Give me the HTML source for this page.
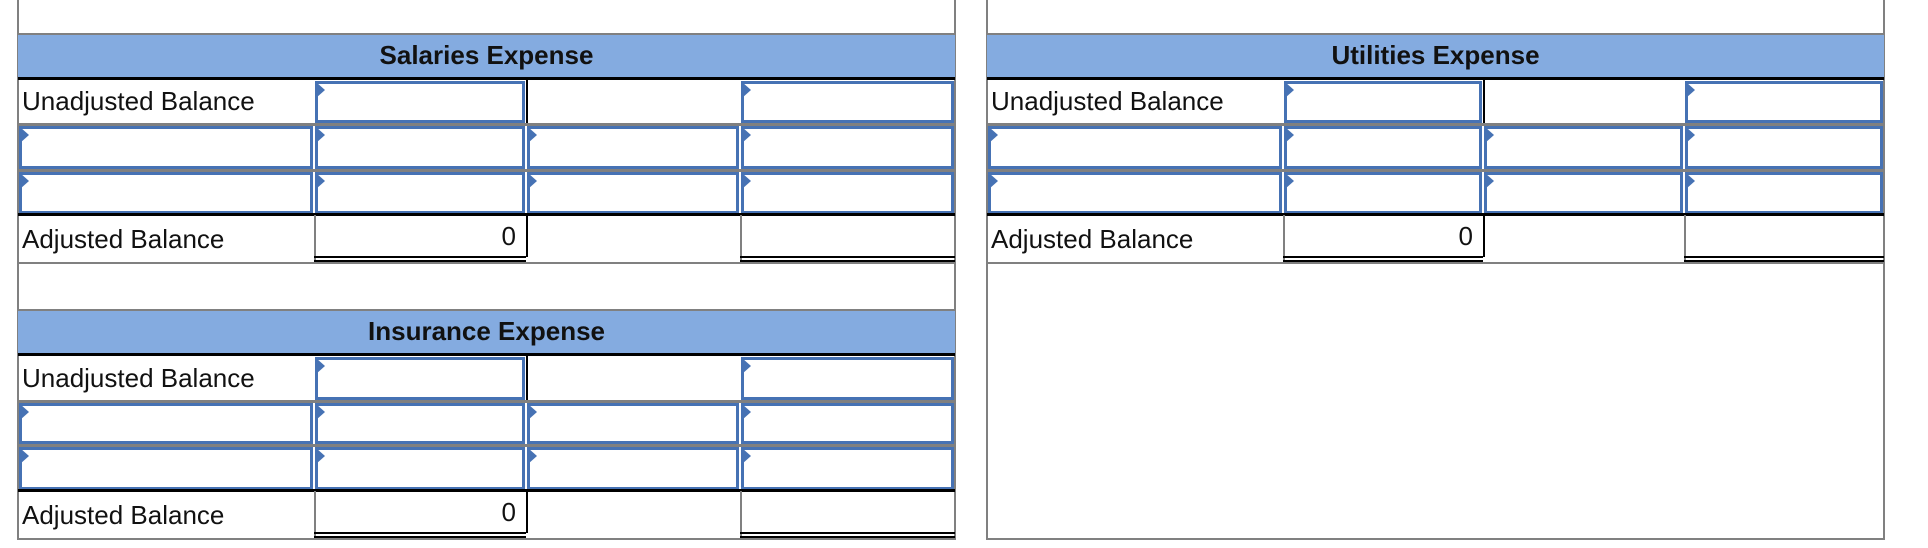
<!DOCTYPE html>
<html><head><meta charset="utf-8"><style>
body{margin:0;width:1928px;height:548px;background:#fff;position:relative;overflow:hidden;font-family:"Liberation Sans",Arial,sans-serif;}
div{position:absolute;box-sizing:border-box;}
.g{background:#808080}
.k{background:#000}
.hd{background:#84abe0;font-weight:bold;font-size:26px;text-align:center;color:#111}
.inp{border:3px solid #4672b4;background:#fff}
.tri{width:0;height:0;border-left:9px solid #4672b4;border-top:8px solid transparent;border-bottom:8px solid transparent}
.lbl{font-size:26px;color:#111;white-space:nowrap}
.v{font-size:26px;color:#111;text-align:right}
</style></head><body>
<script>
function el(c,x,y,w,h,t,extra){var d=document.createElement('div');d.className=c;d.style.left=x+'px';d.style.top=y+'px';d.style.width=w+'px';d.style.height=h+'px';if(t!==undefined){d.textContent=t;}if(extra)d.style.cssText+=extra;document.body.appendChild(d);return d;}
function input(x0,x1,y0,y1){el('inp',x0+1,y0+2,x1-x0-2,y1-y0-3);el('tri',x0+2,y0+3,9,16);}
function section(C,Y,title){
 var L=C[0],R=C[4];
 el('g',L,Y[0]-1,R-L,2);
 el('hd',L,Y[0]+1,R-L,Y[1]-Y[0]-1,title,'line-height:'+(Y[1]-Y[0]-4)+'px');
 el('k',L,Y[1]-2,R-L,3);
 el('lbl',L+4,Y[1],C[1]-L,Y[2]-Y[1],'Unadjusted Balance','line-height:'+(Y[2]-Y[1])+'px');
 input(C[1],C[2],Y[1],Y[2]);
 el('k',C[2],Y[1],2,Y[2]-Y[1]);
 input(C[3],C[4],Y[1],Y[2]);
 for(var r=2;r<=3;r++){
  el('g',L,Y[r]-1,R-L,3);
  for(var c=0;c<4;c++)input(C[c],C[c+1],Y[r],Y[r+1]);
 }
 el('k',L,Y[4]-2,R-L,3);
 el('lbl',L+4,Y[4],C[1]-L,Y[5]-Y[4],'Adjusted Balance','line-height:'+(Y[5]-Y[4])+'px');
 el('g',C[1],Y[4],2,Y[5]-Y[4]);
 el('k',C[2],Y[4],2,Y[5]-Y[4]-6);
 el('g',C[3],Y[4],2,Y[5]-Y[4]);
 el('v',C[1],Y[4],C[2]-C[1]-10,Y[5]-Y[4]-6,'0','line-height:'+(Y[5]-Y[4]-6)+'px');
 [[C[1],C[2]],[C[3],C[4]]].forEach(function(p){el('k',p[0],Y[5]-7,p[1]-p[0],2);el('k',p[0],Y[5]-3,p[1]-p[0],2);});
 el('g',L,Y[5]-1,R-L,2);
}
var CL=[18,314,526,740,955],CR=[987,1283,1483,1684,1884];
el('g',17,0,2,540);el('g',954,0,2,540);el('g',17,538,939,2);
el('g',986,0,2,540);el('g',1883,0,2,540);el('g',986,538,899,2);
section(CL,[34,79,124,170,215,263],'Salaries Expense');
section(CL,[310,355,401,445,491,539],'Insurance Expense');
section(CR,[34,79,124,170,215,263],'Utilities Expense');
</script>
</body></html>
